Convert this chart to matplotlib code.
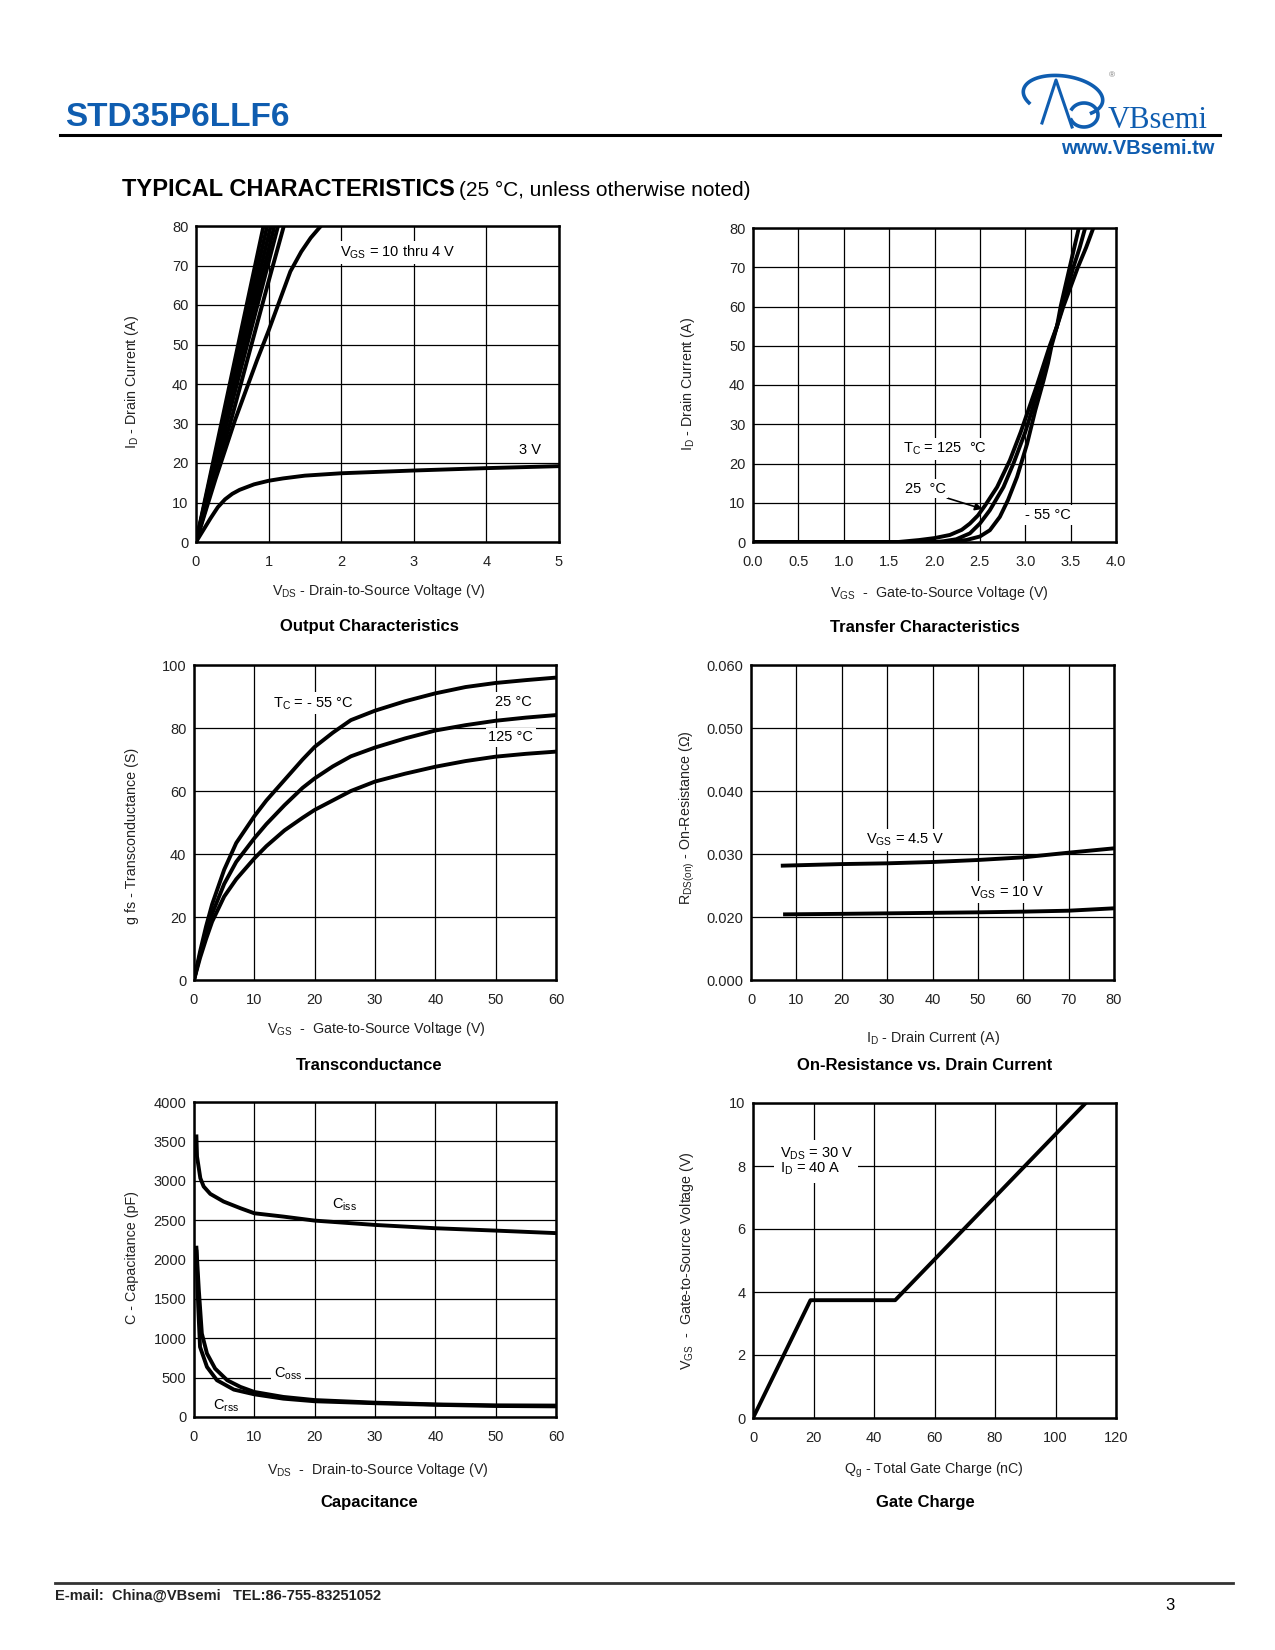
import matplotlib.pyplot as plt
import numpy as np

plt.rcParams["font.family"] = ["Liberation Sans", "DejaVu Sans"]
plt.rcParams["mathtext.default"] = "regular"

W, H = 1275, 1650
BLUE = "#0f5db0"

# ---------------- data ----------------
# Output characteristics: VDS (V) / ID (A), VGS = 10 ... 4 V, then 3 V
out_vds = [
    [0.0, 0.5, 0.93],
    [0.0, 0.5, 0.98],
    [0.0, 0.5, 1.03],
    [0.0, 0.5, 1.08],
    [0.0, 0.5, 1.13],
    [0.0, 0.5, 1.0, 1.21],
    [0.0, 0.27, 0.54, 0.84, 1.0, 1.16, 1.30, 1.45, 1.58, 1.72],
]
out_id = [
    [0, 43, 80],
    [0, 41, 80],
    [0, 39, 80],
    [0, 37, 80],
    [0, 35.5, 80],
    [0, 32, 66, 80],
    [0, 16, 31, 46, 53.5, 61.5, 68.5, 73.5, 77, 80],
]
out_vds_3v = [0, 0.1, 0.2, 0.3, 0.4, 0.5, 0.6, 0.8, 1.0, 1.2, 1.5, 2.0, 3.0, 4.0, 5.0]
out_id_3v = [0, 3, 6, 8.8, 10.8, 12.2, 13.2, 14.6, 15.5, 16.1, 16.8, 17.4, 18.1, 18.7, 19.2]

# Transfer characteristics: VGS (V) / ID (A)
tr_vgs_125 = [0.0, 1.6, 1.83, 2.0, 2.17, 2.3, 2.39, 2.48, 2.56, 2.69, 2.83,
              2.95, 3.04, 3.13, 3.2, 3.27, 3.35, 3.42, 3.5, 3.58, 3.67, 3.75]
tr_id_125 = [0, 0, 0.5, 1.0, 1.8, 3.1, 4.7, 6.8, 9.4, 14, 20.8,
             28, 34, 40, 45, 50, 55, 60, 65, 70, 75, 80]
tr_vgs_25 = [0.0, 2.0, 2.1, 2.24, 2.39, 2.5, 2.61, 2.76, 2.87, 3.0, 3.08,
             3.15, 3.22, 3.28, 3.35, 3.41, 3.47, 3.53, 3.6, 3.66]
tr_id_25 = [0, 0, 0.2, 0.7, 2.2, 4.7, 8.1, 14, 20, 28, 34,
            40, 45, 50, 55, 60, 65, 70, 75, 80]
tr_vgs_m55 = [0.0, 2.1, 2.35, 2.5, 2.61, 2.72, 2.81, 2.91, 3.02, 3.11, 3.2,
              3.25, 3.29, 3.35, 3.39, 3.44, 3.49, 3.54, 3.59]
tr_id_m55 = [0, 0, 0.5, 1.4, 3, 6.4, 10.7, 16.6, 25, 33.5, 41,
             45.5, 50, 55, 60, 65, 70, 75, 80]

# Transconductance: VGS (V) / gfs (S)
gfs_vgs = [0, 1, 2, 3, 5, 7, 10, 12, 15, 18, 20, 23, 26, 30, 35, 40, 45, 50, 55, 60]
gfs_m55 = [0, 9, 17, 24, 35, 43.5, 52, 57, 63.5, 70, 74, 78.5, 82.5, 85.5,
           88.5, 91, 93, 94.3, 95.2, 96]
gfs_25 = [0, 8, 15, 21, 30.5, 37.5, 45, 49.5, 55.5, 61, 64, 67.8, 71, 73.8,
          76.7, 79.2, 80.9, 82.3, 83.3, 84.1]
gfs_125 = [0, 7, 13, 18.5, 26.5, 32, 38.6, 42.5, 47.5, 51.5, 54, 57, 60, 63,
           65.5, 67.7, 69.5, 70.9, 71.8, 72.5]

# On-resistance vs drain current
rds_id_45 = [7, 20, 30, 40, 50, 60, 70, 80]
rds_45 = [0.02815, 0.0284, 0.02852, 0.02873, 0.02905, 0.02947, 0.03021, 0.0309]
rds_id_10 = [7.5, 20, 30, 40, 50, 60, 70, 80]
rds_10 = [0.02042, 0.0205, 0.02058, 0.02066, 0.02074, 0.02085, 0.021, 0.02138]
rds_ticks = [0.010, 0.020, 0.030, 0.040, 0.050, 0.060]
rds_ticklabels = ["0.000", "0.020", "0.030", "0.040", "0.050", "0.060"]

# Capacitance: VDS (V) / C (pF)
ciss_vds = [0.4, 0.5, 1.05, 1.6, 2.7, 4.9, 7.7, 10, 14.8, 20, 30, 40, 50, 60]
ciss = [3563, 3308, 3033, 2927, 2833, 2736, 2651, 2587, 2545, 2494, 2439, 2397, 2367, 2335]
coss_vds = [0.4, 0.8, 1.3, 2.15, 3.5, 5.5, 7.7, 10, 14.8, 20, 30, 40, 50, 60]
coss = [2150, 1612, 1060, 806, 615, 467, 382, 318, 255, 215, 182, 160, 148, 145]
crss_vds = [0.4, 0.7, 1.0, 2.15, 3.8, 6.6, 10, 14.8, 20, 30, 40, 50, 60]
crss = [2100, 1400, 890, 636, 467, 348, 288, 233, 200, 175, 155, 140, 135]

# Gate charge: Qg (nC) / VGS (V)
qg = [0, 19, 47, 110]
qg_vgs = [0, 3.74, 3.74, 10]


def box(left, top, right, bottom):
    # pixel box -> figure fraction rect
    return [left / W, 1 - bottom / H, (right - left) / W, (bottom - top) / H]


def style(ax, xticks, yticks, xlabels=None, ylabels=None):
    ax.set_xlim(xticks[0], xticks[-1])
    ax.set_ylim(yticks[0], yticks[-1])
    ax.set_xticks(xticks)
    ax.set_yticks(yticks)
    if xlabels is not None:
        ax.set_xticklabels(xlabels)
    if ylabels is not None:
        ax.set_yticklabels(ylabels)
    ax.grid(True, color="black", linewidth=0.9)
    ax.tick_params(length=0, labelsize=10.5, labelcolor="#222222")
    ax.tick_params(axis="x", pad=9.5)
    ax.tick_params(axis="y", pad=5.5)
    for s in ax.spines.values():
        s.set_linewidth(1.8)


def label(ax, x, y, s, ha="left"):
    ax.text(x, y, s, fontsize=10.5, ha=ha, va="center", zorder=4,
            bbox=dict(facecolor="white", edgecolor="none", pad=2))


LW = 2.8
fig = plt.figure(figsize=(W / 100, H / 100), dpi=100)

# page decoration layer in pixel coordinates
deco = fig.add_axes([0, 0, 1, 1])
deco.set_xlim(0, W)
deco.set_ylim(H, 0)
deco.axis("off")

deco.text(65, 126, "STD35P6LLF6", fontsize=24, fontweight="bold",
          color=BLUE, va="baseline")
deco.plot([60, 1220], [134.5, 134.5], color="black", lw=2.2)

# logo
t = np.radians(np.linspace(215, -40, 90))
ex, ey = 40 * np.cos(t), 20 * np.sin(t)
r = np.radians(-8)
deco.plot(1063 + ex * np.cos(r) - ey * np.sin(r),
          96 - (ex * np.sin(r) + ey * np.cos(r)), color=BLUE, lw=2.6)
t = np.radians(np.linspace(150, -155, 60))
deco.plot(1084 + 14 * np.cos(t), 115 - 12 * np.sin(t), color=BLUE, lw=2.6)
deco.plot([1042, 1056, 1072], [123, 80, 127], color=BLUE, lw=2.2)
deco.text(1108, 128, "VBsemi", fontsize=22, family="Liberation Serif",
          color=BLUE, va="baseline")
deco.text(1109, 76, "®", fontsize=6, color="#777777", va="center")
deco.text(1061, 154, "www.VBsemi.tw", fontsize=14.5, fontweight="bold",
          color=BLUE, va="baseline")

deco.text(122, 196, "TYPICAL CHARACTERISTICS", fontsize=17,
          fontweight="bold", va="baseline")
deco.text(459, 196, "(25 °C, unless otherwise noted)", fontsize=15,
          va="baseline")

deco.plot([55, 1233], [1583, 1583], color="#333333", lw=2)
deco.text(55, 1596, "E-mail:  China@VBsemi   TEL:86-755-83251052",
          fontsize=10.5, fontweight="bold", va="center", color="#222222")
deco.text(1170, 1605, "3", fontsize=12, ha="center", va="center")

# ---------- Output characteristics ----------
ax1 = fig.add_axes(box(196, 226, 559, 542))
for vds, cur in zip(out_vds, out_id):
    ax1.plot(vds, cur, color="black", lw=LW)
ax1.plot(out_vds_3v, out_id_3v, color="black", lw=LW)
style(ax1, [0, 1, 2, 3, 4, 5], list(range(0, 90, 10)))
label(ax1, 1.98, 73.4, "V$_{GS}$ = 10 thru 4 V")
label(ax1, 4.45, 23.4, "3 V")

# ---------- Transfer characteristics ----------
ax2 = fig.add_axes(box(753, 228, 1116, 542))
ax2.plot(tr_vgs_125, tr_id_125, color="black", lw=LW)
ax2.plot(tr_vgs_25, tr_id_25, color="black", lw=LW)
ax2.plot(tr_vgs_m55, tr_id_m55, color="black", lw=LW)
xt2 = [0.0, 0.5, 1.0, 1.5, 2.0, 2.5, 3.0, 3.5, 4.0]
style(ax2, xt2, list(range(0, 90, 10)), xlabels=[f"{v:.1f}" for v in xt2])
label(ax2, 1.65, 23.8, "T$_C$ = 125  °C")
label(ax2, 1.67, 13.6, "25  °C")
label(ax2, 3.0, 6.9, "- 55 °C")
ax2.annotate("", xy=(2.53, 8.4), xytext=(2.14, 11.2),
             arrowprops=dict(arrowstyle="-|>", color="black", lw=1.2,
                             mutation_scale=11, shrinkA=0, shrinkB=0))

# ---------- Transconductance ----------
ax3 = fig.add_axes(box(194, 665, 556, 980))
ax3.plot(gfs_vgs, gfs_m55, color="black", lw=LW)
ax3.plot(gfs_vgs, gfs_25, color="black", lw=LW)
ax3.plot(gfs_vgs, gfs_125, color="black", lw=LW)
style(ax3, list(range(0, 70, 10)), list(range(0, 120, 20)))
label(ax3, 13.1, 87.8, "T$_C$ = - 55 °C")
label(ax3, 49.9, 88.4, "25 °C")
label(ax3, 48.8, 77.0, "125 °C")

# ---------- On-resistance ----------
ax4 = fig.add_axes(box(751, 665, 1114, 980))
ax4.plot(rds_id_45, rds_45, color="black", lw=LW)
ax4.plot(rds_id_10, rds_10, color="black", lw=LW)
style(ax4, list(range(0, 90, 10)), rds_ticks, ylabels=rds_ticklabels)
label(ax4, 25.4, 0.0322, "V$_{GS}$ = 4.5 V")
label(ax4, 48.2, 0.0239, "V$_{GS}$ = 10 V")

# ---------- Capacitance ----------
ax5 = fig.add_axes(box(194, 1102, 556, 1417))
ax5.plot(ciss_vds, ciss, color="black", lw=LW)
ax5.plot(coss_vds, coss, color="black", lw=LW)
ax5.plot(crss_vds, crss, color="black", lw=LW)
style(ax5, list(range(0, 70, 10)), list(range(0, 4500, 500)))
label(ax5, 22.8, 2693, "C$_{iss}$")
label(ax5, 13.3, 551, "C$_{oss}$")
label(ax5, 3.1, 148, "C$_{rss}$")

# ---------- Gate charge ----------
ax6 = fig.add_axes(box(753, 1103, 1116, 1418))
ax6.plot(qg, qg_vgs, color="black", lw=LW)
style(ax6, list(range(0, 140, 20)), list(range(0, 12, 2)))
ax6.text(8.8, 8.15, "V$_{DS}$ = 30 V\nI$_D$ = 40 A", fontsize=10.5,
         va="center", linespacing=0.95, zorder=4,
         bbox=dict(facecolor="white", edgecolor="none", pad=4))

# ---------- axis labels and titles (page pixels) ----------
ylabels = [
    (132, 382, "I$_D$ - Drain Current (A)"),
    (688, 384, "I$_D$ - Drain Current (A)"),
    (132, 836, "g fs - Transconductance (S)"),
    (687, 818, "R$_{DS(on)}$ - On-Resistance (Ω)"),
    (132, 1258, "C - Capacitance (pF)"),
    (687, 1261, "V$_{GS}$  -  Gate-to-Source Voltage (V)"),
]
for x, y, s in ylabels:
    deco.text(x, y, s, fontsize=10.3, rotation=90, ha="center",
              va="center", color="#222222")

xlabels = [
    (379, 591, "V$_{DS}$ - Drain-to-Source Voltage (V)"),
    (939, 593, "V$_{GS}$  -  Gate-to-Source Voltage (V)"),
    (376, 1029, "V$_{GS}$  -  Gate-to-Source Voltage (V)"),
    (933, 1038, "I$_D$ - Drain Current (A)"),
    (378, 1470, "V$_{DS}$  -  Drain-to-Source Voltage (V)"),
    (934, 1470, "Q$_g$ - Total Gate Charge (nC)"),
]
for x, y, s in xlabels:
    deco.text(x, y, s, fontsize=10.3, ha="center", va="center",
              color="#222222")

titles = [
    (369, 627, "Output Characteristics"),
    (925, 627, "Transfer Characteristics"),
    (369, 1065, "Transconductance"),
    (925, 1065, "On-Resistance vs. Drain Current"),
    (369, 1502, "Capacitance"),
    (925, 1502, "Gate Charge"),
]
for x, y, s in titles:
    deco.text(x, y, s, fontsize=12, fontweight="bold", ha="center",
              va="center")

fig.savefig("out.png", dpi=100)
